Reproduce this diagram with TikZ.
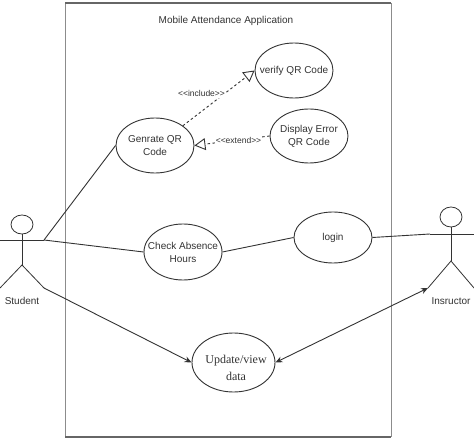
\documentclass[tikz,border=0pt]{standalone}
\usepackage{fontspec}
\setmainfont{Liberation Sans}
\newfontfamily\serifface{Liberation Serif}
\usetikzlibrary{arrows.meta,shapes.geometric}
\definecolor{ink}{gray}{0.2}
\newcommand{\ctr}[1]{\makebox[0pt][c]{#1}}
\tikzset{
  usecase/.style={draw=ink,line width=0.9pt,ellipse,inner sep=0pt,minimum width=#1,text=ink,align=center,font=\fontsize{10}{13}\selectfont},
  lbl/.style={text=ink,inner sep=0pt,font=\fontsize{10}{12}\selectfont},
  small/.style={text=ink,inner sep=1pt,font=\fontsize{8.5}{10}\selectfont},
  link/.style={draw=ink,line width=0.9pt},
  stereo/.style={draw=ink,line width=0.9pt,dash pattern=on 2.5pt off 2.5pt,-{Triangle[open,length=11pt,width=12pt,fill=white]}},
  both/.style={draw=ink,line width=0.9pt,{Stealth[length=7pt,width=6pt]}-{Stealth[length=7pt,width=6pt]}},
  single/.style={draw=ink,line width=0.9pt,-{Stealth[length=7pt,width=6pt]}},
  actor/.style={draw=ink,line width=0.8pt}
}
\begin{document}
\begin{tikzpicture}[x=1pt,y=-1pt]
\useasboundingbox (0,0) rectangle (474,438);
\fill[white] (0,0) rectangle (474,438);
% system boundary
\draw[black!45,line width=0.9pt] (65,3) -- (391,3) -- (391,436) -- (65,436) -- cycle;
\draw[black!60,line width=1.5pt] (65,3) -- (391,3);
\draw[black!60,line width=2pt] (65,436.5) -- (391,436.5);
\node[lbl] (title) at (226,21) {Mobile Attendance Application};
% use cases
\node[usecase=78pt,minimum height=55pt] (verify) at (294,70.5) {\ctr{verify QR Code}};
\node[usecase=78pt,minimum height=54pt] (display) at (309,136) {\ctr{Display Error}\\\ctr{QR Code}};
\node[usecase=78pt,minimum height=55pt] (genrate) at (155,145.5) {\ctr{Genrate QR}\\\ctr{Code}};
\node[usecase=78pt,minimum height=56pt] (check) at (183,252) {\ctr{Check Absence}\\\ctr{Hours}};
\node[usecase=78pt,minimum height=51pt] (login) at (333,237.5) {\ctr{login}};
\node[usecase=83pt,minimum height=59pt] (update) at (233.5,362.5) {};
\node[text=ink,inner sep=0pt,align=center,font=\serifface\fontsize{12}{17}\selectfont] (updatetext) at (236,368) {Update/view\\data};
% student
\node[draw=ink,line width=0.8pt,ellipse,minimum width=22pt,minimum height=19pt,inner sep=0pt] (shead) at (22,224.5) {};
\coordinate (sbody) at (22,265);
\coordinate (sarmL) at (0,240);
\coordinate (sarmR) at (44,240);
\coordinate (slegL) at (0,288);
\coordinate (slegR) at (44,288);
\draw[actor] (shead.south) -- (sbody);
\draw[actor] (sarmL) -- (sarmR);
\draw[actor] (slegL) -- (sbody) -- (slegR);
\node[lbl] (slabel) at (22,301) {Student};
% instructor
\node[draw=ink,line width=0.8pt,ellipse,minimum width=22pt,minimum height=20pt,inner sep=0pt] (ihead) at (451,217) {};
\coordinate (ibody) at (451,261);
\coordinate (iarmL) at (430,234);
\coordinate (iarmR) at (474,234);
\coordinate (ilegL) at (428,288);
\coordinate (ilegR) at (474,288);
\draw[actor] (ihead.south) -- (ibody);
\draw[actor] (iarmL) -- (iarmR);
\draw[actor] (ilegL) -- (ibody) -- (ilegR);
\node[lbl] (ilabel) at (451,301) {Insructor};
% connectors
\draw[link] (sarmR) -- (genrate.west);
\draw[link] (sarmR) -- (check.west);
\draw[link] (check.east) -- (login.west);
\draw[link] (login.east) -- (iarmL);
\draw[single] (slegR) -- (update.west);
\draw[both] (update.east) -- (ilegL);
\draw[stereo] (genrate.north east) -- (verify.west);
\draw[stereo] (display.west) -- (genrate.east);
\node[small,fill=white] (inc) at (201.5,93.5) {{<}{<}include{>}{>}};
\node[small,fill=white] (ext) at (238.5,140) {{<}{<}extend{>}{>}};
\end{tikzpicture}
\end{document}
